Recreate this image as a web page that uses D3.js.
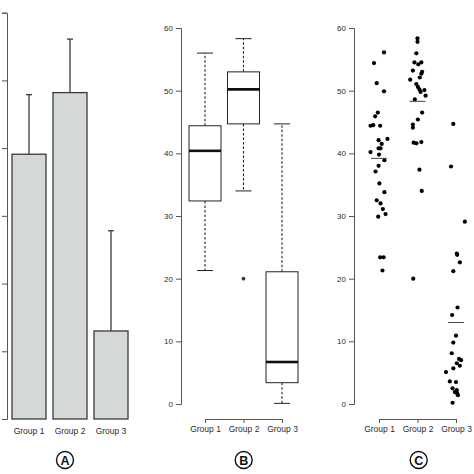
<!DOCTYPE html>
<html>
<head>
<meta charset="utf-8">
<script src="https://cdn.jsdelivr.net/npm/d3@7/dist/d3.min.js"></script>
<style>
html,body{margin:0;padding:0;background:#fff;}
svg{display:block;font-family:"Liberation Sans",Arial,sans-serif;}
</style>
</head>
<body>
<svg id="chart" width="474" height="474"></svg>
<script>
// ---------- data ----------
const groups = ["Group 1", "Group 2", "Group 3"];
const yTicks = [0, 10, 20, 30, 40, 50, 60];

// Panel A: means and SD (upper error bar)
const barMeans = [39.1, 48.2, 13.0];
const barSD = [8.8, 7.9, 14.8];

// Panel B: boxplot statistics
const boxLow = [21.3, 34.0, 0.1];
const boxQ1 = [32.4, 44.7, 3.4];
const boxMedian = [40.4, 50.2, 6.7];
const boxQ3 = [44.4, 53.0, 21.1];
const boxHigh = [56.0, 58.3, 44.7];
const boxOutliers = [[], [20.0], []];

// Panel C: individual values and jitter (in group units)
const g1Values = [56.1, 54.4, 51.2, 49.9, 46.5, 45.9, 44.4, 44.5, 44.4, 42.3, 42.1, 41.5, 40.8, 40.8, 40.2, 39.8, 38.9, 38.0, 37.1, 35.2, 33.8, 32.5, 32.0, 31.1, 30.3, 29.9, 23.4, 23.4, 21.3];
const g1Jitter = [0.13, -0.13, -0.06, 0.13, -0.03, -0.10, -0.22, -0.15, 0.03, 0.22, -0.01, 0.07, -0.01, 0.04, -0.22, 0.0, 0.14, -0.01, -0.09, 0.01, 0.14, -0.06, 0.04, 0.10, 0.17, -0.02, 0.03, 0.12, 0.09];
const g2Values = [58.35, 57.8, 55.96, 54.5, 54.2, 54.5, 53.2, 53.0, 52.7, 52.1, 51.75, 51.06, 50.6, 50.2, 50.1, 49.8, 49.2, 48.6, 46.5, 45.4, 44.6, 44.1, 41.7, 41.6, 41.8, 37.4, 34.0, 20.0];
const g2Jitter = [0.0, 0.0, -0.03, -0.08, 0.02, 0.10, -0.12, 0.12, 0.10, 0.06, -0.19, -0.03, 0.01, 0.05, 0.18, 0.08, 0.21, -0.07, 0.12, 0.01, -0.12, -0.12, -0.10, -0.03, 0.10, 0.05, 0.11, -0.11];
const g3Values = [44.7, 37.9, 29.1, 24.0, 23.8, 22.6, 21.2, 15.4, 14.2, 10.9, 9.8, 8.1, 7.2, 7.0, 6.5, 6.1, 5.7, 5.1, 3.6, 3.5, 2.5, 2.2, 1.9, 1.7, 1.4, 0.2];
const g3Jitter = [-0.07, -0.13, 0.23, 0.02, 0.03, 0.10, -0.07, 0.04, -0.10, 0.0, -0.07, -0.11, 0.08, 0.13, 0.02, 0.10, -0.07, -0.26, -0.16, 0.0, -0.09, 0.02, -0.03, 0.03, 0.05, -0.09];
const stripMeans = [39.2, 48.3, 13.0];

const panelLabels = ["A", "B", "C"];

// ---------- drawing ----------
const svg = d3.select("#chart");
const textCol = "#2a2a2a";
const axisCol = "#555";

function styleAxis(g, fs) {
  g.selectAll("path,line").attr("stroke", axisCol).attr("stroke-width", 1);
  g.selectAll("text").attr("fill", textCol).attr("font-size", fs).attr("font-family", "Liberation Sans, Arial, sans-serif");
}

// ===== Panel A =====
const yA = d3.scaleLinear().domain([0, 60]).range([419, 12.7]);
const xA = d3.scaleBand().domain(groups).range([12, 128]).paddingInner(0.17).paddingOuter(0);

const gA = svg.append("g");
gA.append("g").attr("transform", "translate(7,0)")
  .call(d3.axisLeft(yA).tickValues(yTicks).tickSize(5).tickSizeOuter(5).tickFormat(() => ""))
  .call(g => styleAxis(g, 8));

// error bars (upper)
groups.forEach((gname, i) => {
  const cx = xA(gname) + xA.bandwidth() / 2;
  gA.append("line").attr("x1", cx).attr("x2", cx)
    .attr("y1", yA(barMeans[i])).attr("y2", yA(barMeans[i] + barSD[i]))
    .attr("stroke", "#3a3a3a").attr("stroke-width", 1.3);
  gA.append("line").attr("x1", cx - 3).attr("x2", cx + 3)
    .attr("y1", yA(barMeans[i] + barSD[i])).attr("y2", yA(barMeans[i] + barSD[i]))
    .attr("stroke", "#3a3a3a").attr("stroke-width", 1.3);
});
gA.selectAll("rect.bar").data(groups).join("rect")
  .attr("x", d => xA(d)).attr("width", xA.bandwidth())
  .attr("y", (d, i) => yA(barMeans[i])).attr("height", (d, i) => yA(0) - yA(barMeans[i]))
  .attr("fill", "#d4d9d7").attr("stroke", "#3a3a3a").attr("stroke-width", 1.3);
gA.selectAll("text.glab").data(groups).join("text")
  .attr("x", d => xA(d) + xA.bandwidth() / 2).attr("y", 433.5)
  .attr("text-anchor", "middle").attr("font-size", 8.5).attr("fill", textCol).text(d => d);

// ===== Panel B =====
const yB = d3.scaleLinear().domain([0, 60]).range([404, 28]);
const xB = d3.scalePoint().domain(groups).range([205, 282]);
const gB = svg.append("g");
gB.append("g").attr("transform", "translate(181,0)")
  .call(d3.axisLeft(yB).tickValues(yTicks).tickSize(5).tickSizeOuter(5).tickPadding(3))
  .call(g => styleAxis(g, 8));
gB.append("g").attr("transform", "translate(0,419)")
  .call(d3.axisBottom(xB).tickSize(4).tickSizeOuter(4).tickPadding(3))
  .call(g => styleAxis(g, 8.5));

const boxW = 32;
groups.forEach((gname, i) => {
  const cx = xB(gname);
  // whiskers
  [[boxQ3[i], boxHigh[i]], [boxQ1[i], boxLow[i]]].forEach(([a, b]) => {
    gB.append("line").attr("x1", cx).attr("x2", cx).attr("y1", yB(a)).attr("y2", yB(b))
      .attr("stroke", "#222").attr("stroke-width", 1.1).attr("stroke-dasharray", "2.5,2");
    gB.append("line").attr("x1", cx - boxW / 4).attr("x2", cx + boxW / 4).attr("y1", yB(b)).attr("y2", yB(b))
      .attr("stroke", "#222").attr("stroke-width", 1);
  });
  gB.append("rect").attr("x", cx - boxW / 2).attr("width", boxW)
    .attr("y", yB(boxQ3[i])).attr("height", yB(boxQ1[i]) - yB(boxQ3[i]))
    .attr("fill", "#fff").attr("stroke", "#222").attr("stroke-width", 1);
  gB.append("line").attr("x1", cx - boxW / 2).attr("x2", cx + boxW / 2)
    .attr("y1", yB(boxMedian[i])).attr("y2", yB(boxMedian[i]))
    .attr("stroke", "#111").attr("stroke-width", 2.6);
  boxOutliers[i].forEach(v => {
    gB.append("circle").attr("cx", cx).attr("cy", yB(v)).attr("r", 1.6)
      .attr("fill", "#333").attr("stroke", "#333").attr("stroke-width", 0.6);
  });
});

// ===== Panel C =====
const yC = d3.scaleLinear().domain([0, 60]).range([404, 28]);
const xC = d3.scalePoint().domain(groups).range([379, 456]);
const stepC = xC.step();
const gC = svg.append("g");
gC.append("g").attr("transform", "translate(354,0)")
  .call(d3.axisLeft(yC).tickValues(yTicks).tickSize(5).tickSizeOuter(5).tickPadding(3))
  .call(g => styleAxis(g, 8));
gC.append("g").attr("transform", "translate(0,419)")
  .call(d3.axisBottom(xC).tickSize(4).tickSizeOuter(4).tickPadding(3))
  .call(g => styleAxis(g, 8.5));

const allValues = [g1Values, g2Values, g3Values];
const allJitter = [g1Jitter, g2Jitter, g3Jitter];
groups.forEach((gname, i) => {
  const pts = allValues[i].map((v, j) => ({ v, j: allJitter[i][j] }));
  gC.selectAll("circle.g" + i).data(pts).join("circle")
    .attr("cx", d => xC(gname) + d.j * stepC).attr("cy", d => yC(d.v))
    .attr("r", 2.1).attr("fill", "#000");
  gC.append("line").attr("x1", xC(gname) - 8).attr("x2", xC(gname) + 8)
    .attr("y1", yC(stripMeans[i])).attr("y2", yC(stripMeans[i]))
    .attr("stroke", "#444").attr("stroke-width", 1);
});

// ===== Panel labels =====
const labelX = [65, 243.7, 418.7];
panelLabels.forEach((lab, i) => {
  svg.append("circle").attr("cx", labelX[i]).attr("cy", 460).attr("r", 8.5)
    .attr("fill", "#fff").attr("stroke", "#111").attr("stroke-width", 1.4);
  svg.append("text").attr("x", labelX[i]).attr("y", 464.6)
    .attr("text-anchor", "middle").attr("font-size", 12.5).attr("font-weight", "bold")
    .attr("fill", "#111").text(lab);
});
</script>
</body>
</html>
